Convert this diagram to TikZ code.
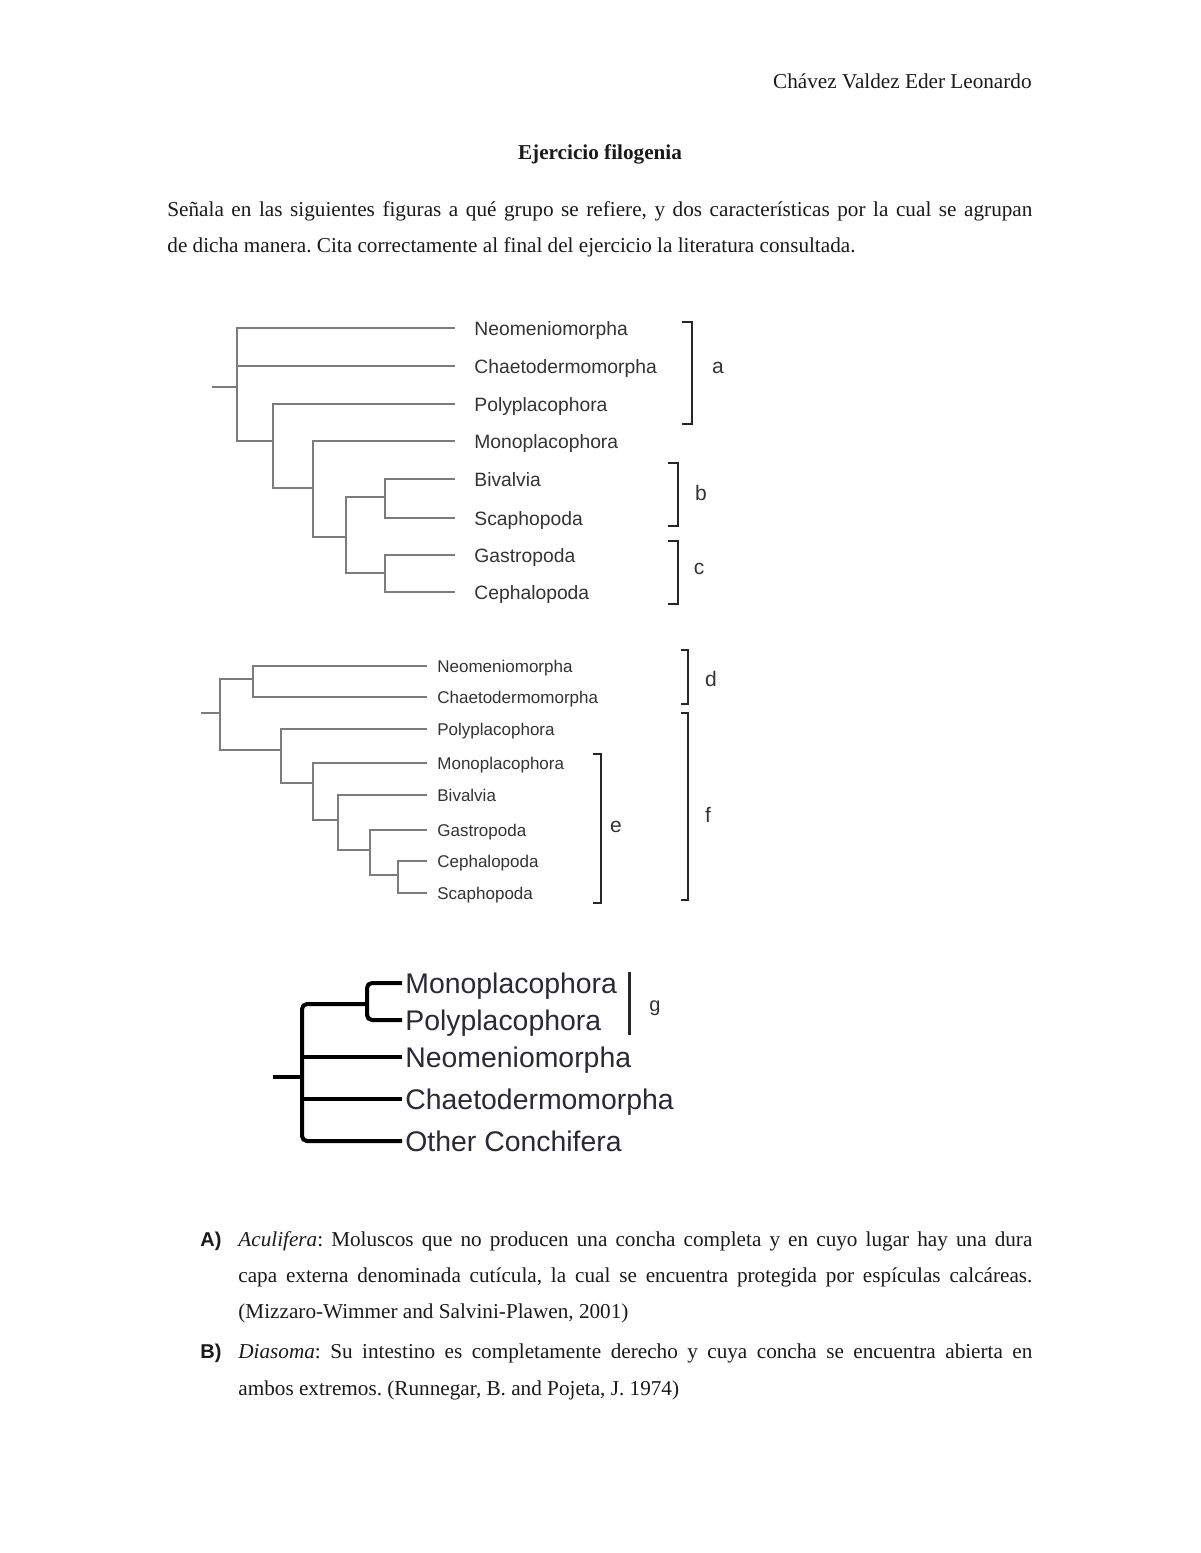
\documentclass[tikz,border=0pt]{standalone}
\usepackage{fontspec}
\setmainfont{Liberation Serif}
\newfontfamily\arialf{Liberation Sans}
\frenchspacing
\definecolor{treegray}{HTML}{7C7C7C}
\definecolor{labgray}{HTML}{333333}
\definecolor{labdark}{HTML}{2A2A35}
\definecolor{brk}{HTML}{262626}
\definecolor{bodyc}{HTML}{1A1A1A}
\tikzset{
  branchA/.style={treegray, line width=0.8pt},
  branchB/.style={treegray, line width=0.7pt},
  branchC/.style={black, line width=2pt, rounded corners=2.5pt},
  brack/.style={brk, line width=1.2pt},
  labA/.style={anchor=base west, inner sep=0pt, text=labgray, font=\arialf\fontsize{9.65pt}{11pt}\selectfont},
  labB/.style={anchor=base west, inner sep=0pt, text=labgray, font=\arialf\fontsize{8.5pt}{10pt}\selectfont},
  labC/.style={anchor=base west, inner sep=0pt, text=labdark, font=\arialf\fontsize{14.2pt}{16pt}\selectfont},
  glab/.style={anchor=center, inner sep=0pt, text=labgray, font=\arialf\fontsize{10.5pt}{12pt}\selectfont},
  body/.style={anchor=base west, inner sep=0pt, text=bodyc, font=\fontsize{10.6pt}{12pt}\selectfont},
  itemlab/.style={anchor=base west, inner sep=0pt, text=bodyc, font=\arialf\bfseries\fontsize{10pt}{12pt}\selectfont}
}
\begin{document}
\begin{tikzpicture}[x=0.5pt,y=-0.5pt]
\fill[white] (0,0) rectangle (1200,1553);
\useasboundingbox (0,0) rectangle (1200,1553);

% ---------- header text ----------
\node[body, anchor=base east] (hdr) at (1032,88) {Chávez Valdez Eder Leonardo};
\node[body, anchor=base] (ttl) at (600,159) {\textbf{Ejercicio filogenia}};
\node[body] (p1) at (167,216) {\makebox[432.5pt][s]{Señala en las siguientes figuras a qué grupo se refiere, y dos características por la cual se agrupan}};
\node[body] (p2) at (167,252) {de dicha manera. Cita correctamente al final del ejercicio la literatura consultada.};

% ---------- tree 1 ----------
\coordinate (t1r) at (212,387);
\coordinate (t1n1) at (237,387);
\coordinate (t1n2) at (273,441);
\coordinate (t1n3) at (313,488);
\coordinate (t1n4) at (346,537);
\coordinate (t1n5) at (385,497);
\coordinate (t1n6) at (385,573);
\coordinate (t1e1) at (455,328);
\coordinate (t1e2) at (455,366);
\coordinate (t1e3) at (455,404);
\coordinate (t1e4) at (455,441);
\coordinate (t1e5) at (455,479);
\coordinate (t1e6) at (455,518);
\coordinate (t1e7) at (455,555);
\coordinate (t1e8) at (455,592);
\node[labA] (t1l1) at (474,335) {Neomeniomorpha};
\node[labA] (t1l2) at (474,373) {Chaetodermomorpha};
\node[labA] (t1l3) at (474,411) {Polyplacophora};
\node[labA] (t1l4) at (474,448) {Monoplacophora};
\node[labA] (t1l5) at (474,486) {Bivalvia};
\node[labA] (t1l6) at (474,525) {Scaphopoda};
\node[labA] (t1l7) at (474,562) {Gastropoda};
\node[labA] (t1l8) at (474,599) {Cephalopoda};
\draw[branchA] (t1r) -- (t1n1);
\draw[branchA] (t1n1) |- (t1e1);
\draw[branchA] (t1n1) |- (t1e2);
\draw[branchA] (t1n1) |- (t1n2);
\draw[branchA] (t1n2) |- (t1e3);
\draw[branchA] (t1n2) |- (t1n3);
\draw[branchA] (t1n3) |- (t1e4);
\draw[branchA] (t1n3) |- (t1n4);
\draw[branchA] (t1n4) |- (t1n5);
\draw[branchA] (t1n4) |- (t1n6);
\draw[branchA] (t1n5) |- (t1e5);
\draw[branchA] (t1n5) |- (t1e6);
\draw[branchA] (t1n6) |- (t1e7);
\draw[branchA] (t1n6) |- (t1e8);
% brackets
\coordinate (ba1) at (682,322); \coordinate (ba2) at (692,322);
\coordinate (ba3) at (692,424); \coordinate (ba4) at (682,424);
\draw[brack] (ba1) -- (ba2) -- (ba3) -- (ba4);
\node[glab] (la) at (718,368) {a};
\coordinate (bb1) at (668,463); \coordinate (bb2) at (678,463);
\coordinate (bb3) at (678,526); \coordinate (bb4) at (668,526);
\draw[brack] (bb1) -- (bb2) -- (bb3) -- (bb4);
\node[glab] (lb) at (701,493) {b};
\coordinate (bc1) at (668,541); \coordinate (bc2) at (678,541);
\coordinate (bc3) at (678,604); \coordinate (bc4) at (668,604);
\draw[brack] (bc1) -- (bc2) -- (bc3) -- (bc4);
\node[glab] (lc) at (699,569) {c};

% ---------- tree 2 ----------
\coordinate (t2r) at (201,713);
\coordinate (t2n1) at (220,713);
\coordinate (t2n2) at (253,679);
\coordinate (t2n3) at (281,750);
\coordinate (t2n4) at (313,783);
\coordinate (t2n5) at (338,820);
\coordinate (t2n6) at (370,850);
\coordinate (t2n7) at (398,875);
\coordinate (t2e1) at (427,666);
\coordinate (t2e2) at (427,697);
\coordinate (t2e3) at (427,729);
\coordinate (t2e4) at (427,763);
\coordinate (t2e5) at (427,795);
\coordinate (t2e6) at (427,830);
\coordinate (t2e7) at (427,861);
\coordinate (t2e8) at (427,893);
\node[labB] (t2l1) at (437,672) {Neomeniomorpha};
\node[labB] (t2l2) at (437,703) {Chaetodermomorpha};
\node[labB] (t2l3) at (437,735) {Polyplacophora};
\node[labB] (t2l4) at (437,769) {Monoplacophora};
\node[labB] (t2l5) at (437,801) {Bivalvia};
\node[labB] (t2l6) at (437,836) {Gastropoda};
\node[labB] (t2l7) at (437,867) {Cephalopoda};
\node[labB] (t2l8) at (437,899) {Scaphopoda};
\draw[branchB] (t2r) -- (t2n1);
\draw[branchB] (t2n1) |- (t2n2);
\draw[branchB] (t2n1) |- (t2n3);
\draw[branchB] (t2n2) |- (t2e1);
\draw[branchB] (t2n2) |- (t2e2);
\draw[branchB] (t2n3) |- (t2e3);
\draw[branchB] (t2n3) |- (t2n4);
\draw[branchB] (t2n4) |- (t2e4);
\draw[branchB] (t2n4) |- (t2n5);
\draw[branchB] (t2n5) |- (t2e5);
\draw[branchB] (t2n5) |- (t2n6);
\draw[branchB] (t2n6) |- (t2e6);
\draw[branchB] (t2n6) |- (t2n7);
\draw[branchB] (t2n7) |- (t2e7);
\draw[branchB] (t2n7) |- (t2e8);
% brackets
\coordinate (bd1) at (681,650); \coordinate (bd2) at (688,650);
\coordinate (bd3) at (688,704); \coordinate (bd4) at (681,704);
\draw[brack] (bd1) -- (bd2) -- (bd3) -- (bd4);
\node[glab] (ld) at (711,679) {d};
\coordinate (be1) at (593,754); \coordinate (be2) at (601,754);
\coordinate (be3) at (601,903); \coordinate (be4) at (593,903);
\draw[brack] (be1) -- (be2) -- (be3) -- (be4);
\node[glab] (le) at (616,827) {e};
\coordinate (bf1) at (681,713); \coordinate (bf2) at (688,713);
\coordinate (bf3) at (688,900); \coordinate (bf4) at (681,900);
\draw[brack] (bf1) -- (bf2) -- (bf3) -- (bf4);
\node[glab] (lf) at (708,815) {f};

% ---------- tree 3 ----------
\coordinate (t3r) at (273,1077);
\coordinate (t3n1) at (302,1077);
\coordinate (t3g) at (367,1004);
\coordinate (t3e1) at (402,983);
\coordinate (t3e2) at (402,1020);
\coordinate (t3e3) at (402,1057);
\coordinate (t3e4) at (402,1099);
\coordinate (t3e5) at (402,1141);
\node[labC] (t3l1) at (405,993) {Monoplacophora};
\node[labC] (t3l2) at (405,1030) {Polyplacophora};
\node[labC] (t3l3) at (405,1067) {Neomeniomorpha};
\node[labC] (t3l4) at (405,1109) {Chaetodermomorpha};
\node[labC] (t3l5) at (405,1151) {Other Conchifera};
\draw[branchC] (t3r) -- (t3n1);
\draw[branchC] (t3g) -| (t3n1) |- (t3e5);
\draw[branchC] (t3n1 |- t3e3) -- (t3e3);
\draw[branchC] (t3n1 |- t3e4) -- (t3e4);
\draw[branchC] (t3e1) -| (t3g) |- (t3e2);
\coordinate (bg1) at (629,972); \coordinate (bg2) at (629,1035);
\draw[brk, line width=1.5pt] (bg1) -- (bg2);
\node[glab, font=\arialf\fontsize{10pt}{12pt}\selectfont] (lg) at (655,1008) {g};

% ---------- answers ----------
\node[itemlab] (ia) at (200,1246) {A)};
\node[body] (a1) at (238,1246) {\makebox[397pt][s]{\textit{Aculifera}: Moluscos que no producen una concha completa y en cuyo lugar hay una dura}};
\node[body] (a2) at (238,1282) {\makebox[397pt][s]{capa externa denominada cutícula, la cual se encuentra protegida por espículas calcáreas.}};
\node[body] (a3) at (238,1318) {(Mizzaro-Wimmer and Salvini-Plawen, 2001)};
\node[itemlab] (ib) at (200,1358) {B)};
\node[body] (b1) at (238,1358) {\makebox[397pt][s]{\textit{Diasoma}: Su intestino es completamente derecho y cuya concha se encuentra abierta en}};
\node[body] (b2) at (238,1395) {ambos extremos. (Runnegar, B. and Pojeta, J. 1974)};
\end{tikzpicture}
\end{document}
